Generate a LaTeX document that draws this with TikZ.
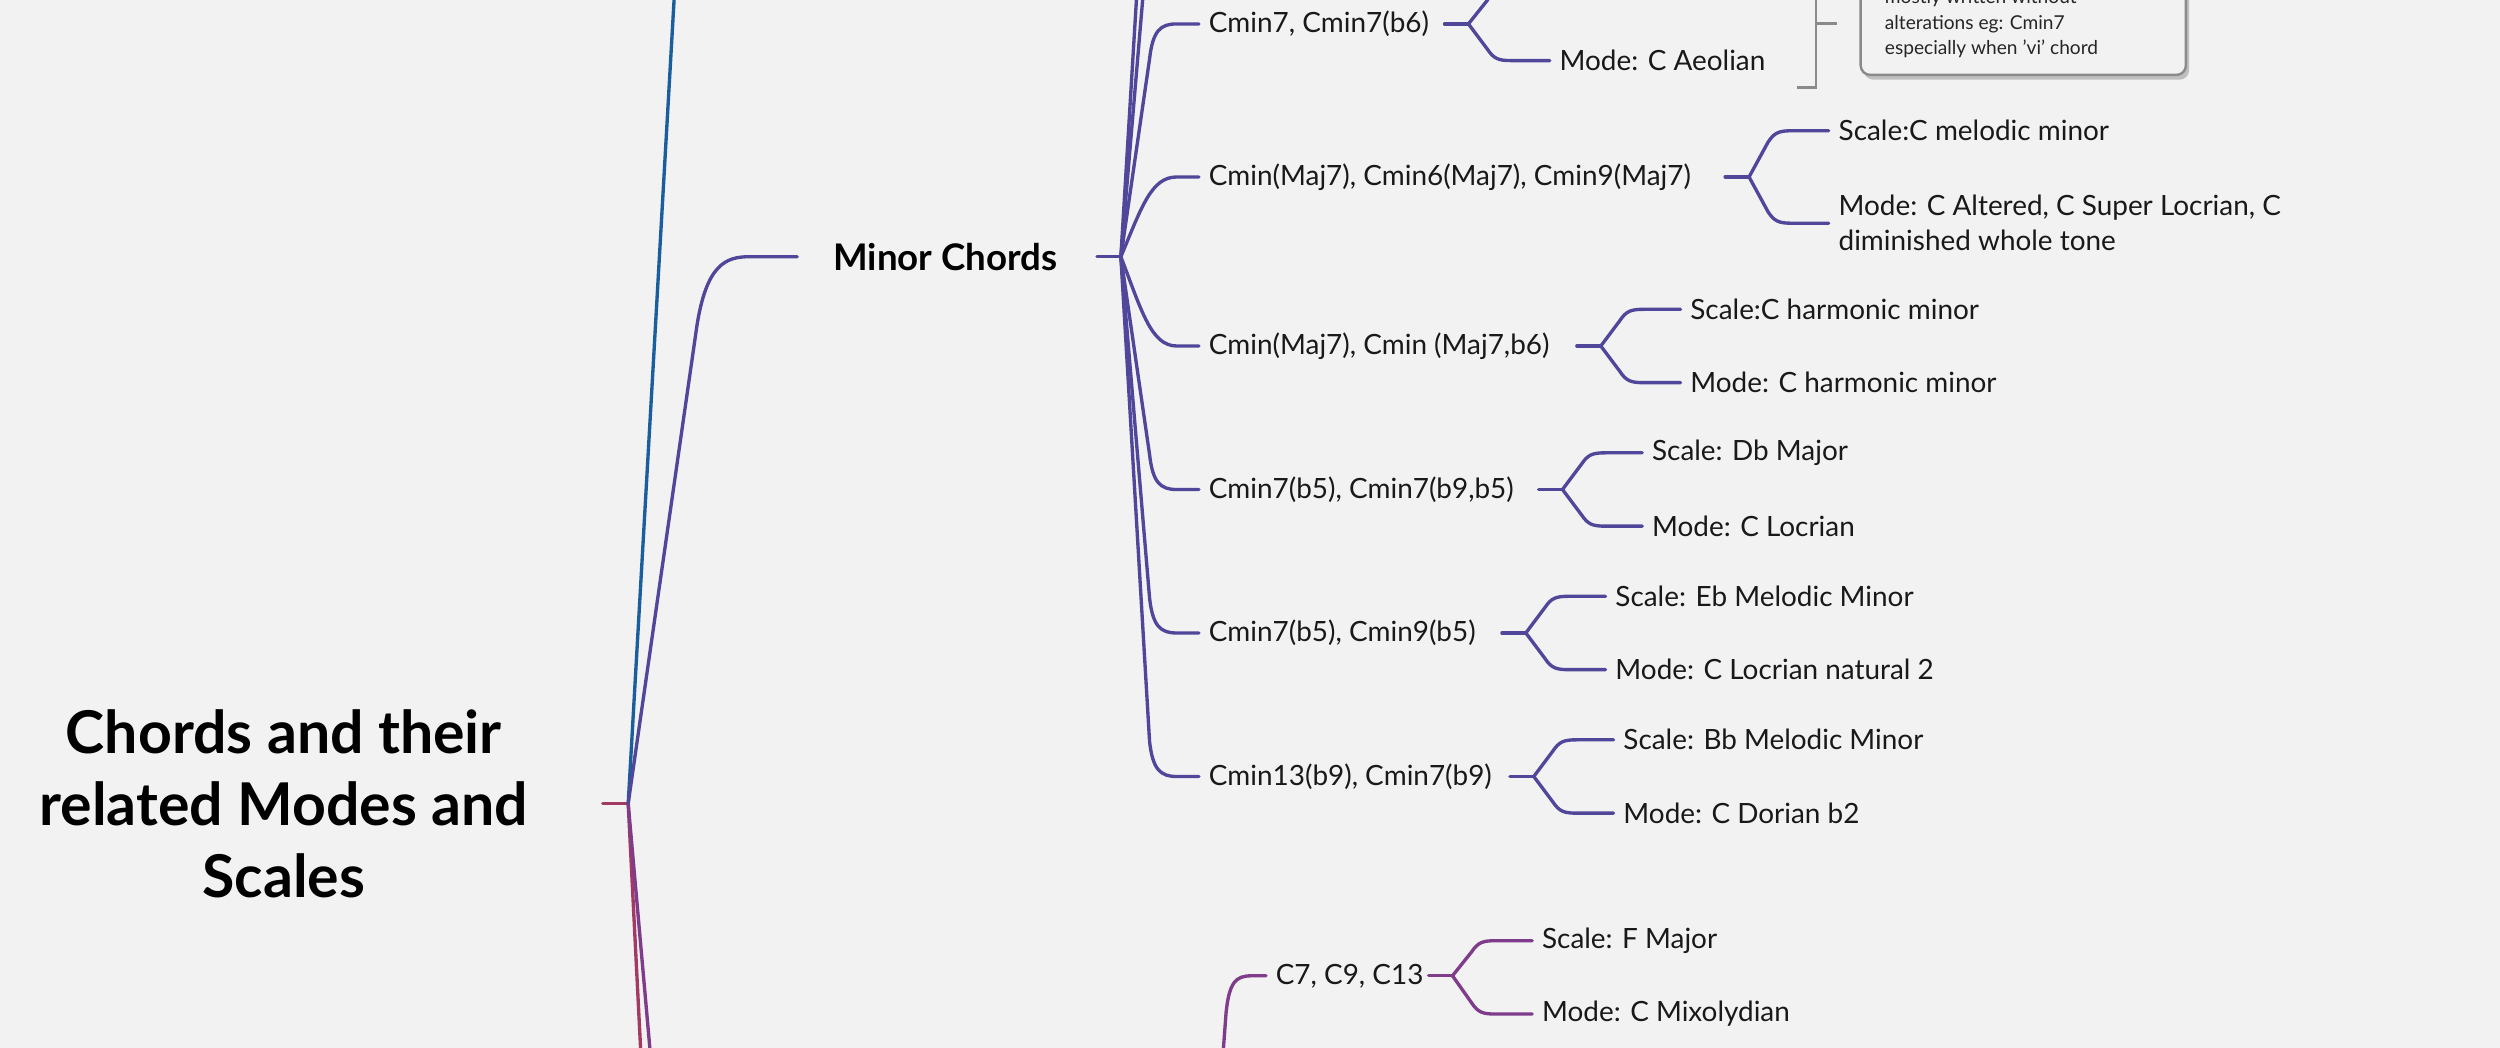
\documentclass[tikz,border=0pt]{standalone}
\usepackage{fontspec}
\setmainfont{Lato}
\usetikzlibrary{calc}
\begin{document}
\definecolor{bg}{HTML}{F2F2F2}
\definecolor{pur}{HTML}{50479A}
\definecolor{blu}{HTML}{1A5E9E}
\definecolor{rd}{HTML}{A33A63}
\definecolor{mag}{HTML}{7E3C8A}
\definecolor{gr}{HTML}{8A8A8A}
\begin{tikzpicture}[x=1pt,y=-1pt,
  ln/.style={line width=2.1pt,line cap=round},
  txt/.style={anchor=west,inner sep=0pt,font=\fontsize{17.5}{22}\selectfont,text=black!90},
  note/.style={anchor=west,inner sep=0pt,font=\fontsize{12}{16}\selectfont,text=black!85,align=left}]
\fill[bg] (0,0) rectangle (1568,657);
\useasboundingbox (0,0) rectangle (1568,657);
\clip (0,0) rectangle (1568,657);
% root
\node[align=center,inner sep=0pt,font=\fontsize{37}{45}\selectfont\bfseries] (root) at (178,504) {Chords and their\\related Modes and\\Scales};
\coordinate (rj) at (394,504);
\coordinate (rs) at (378,504);
\draw[ln,rd] (rs) -- (rj);
\coordinate (bt) at (423,-4);
\draw[ln,blu] (rj) -- (bt);
\coordinate (r1) at (402,662);
\coordinate (r2) at (408,662);
\draw[ln,rd] (rj) -- (r1);
\draw[ln,mag] (rj) -- (r2);
% minor chords
\node[inner sep=0pt,font=\fontsize{23}{26}\selectfont\bfseries] (minor) at (593,161) {Minor Chords};
\coordinate (mw) at (500,161);
\draw[ln,pur] (rj) -- (437,205) .. controls (443,166) and (455,161) .. (470,161) -- (mw);
\coordinate (mj) at (703,161);
\coordinate (ms) at (688,161);
\draw[ln,pur] (ms) -- (mj);
\coordinate (t1) at (713,-4);
\coordinate (t2) at (717,-4);
\draw[ln,pur] (mj) -- (t1);
\draw[ln,pur] (mj) -- (t2);
% chord nodes
\foreach \n/\y/\t in {c1/15/{Cmin7, Cmin7(b6)},c4/307/{Cmin7(b5), Cmin7(b9,b5)},c5/397/{Cmin7(b5), Cmin9(b5)},c6/487/{Cmin13(b9), Cmin7(b9)}}{
  \node[txt] (\n) at (758,\y) {\t};
  \pgfmathsetmacro{\s}{\y<161 ? 1 : -1}
  \draw[ln,pur] (mj) -- (721,\y+\s*22) .. controls (723,\y+\s*4) and (728,\y) .. (738,\y) -- ([xshift=-6pt]\n.west);
}
\node[txt] (c2) at (758,111) {Cmin(Maj7), Cmin6(Maj7), Cmin9(Maj7)};
\draw[ln,pur] (mj) .. controls (716,130) and (722,111) .. (738,111) -- ([xshift=-6pt]c2.west);
\node[txt] (c3) at (758,217) {Cmin(Maj7), Cmin (Maj7,b6)};
\draw[ln,pur] (mj) .. controls (716,195) and (722,217) .. (738,217) -- ([xshift=-6pt]c3.west);
% Cmin7 group
\coordinate (j1) at (921,15);
\draw[ln,pur] (906,15) -- (j1);
\node[txt] (m1) at (978,38) {Mode: C Aeolian};
\draw[ln,pur] (j1) -- (933,31) .. controls (937,37) and (940,38) .. (948,38) -- ([xshift=-6pt]m1.west);
\draw[ln,pur] (j1) -- (933,0) -- (936,-6);
% bracket and note
\coordinate (bk1) at (1139,-4);
\coordinate (bk2) at (1139,55);
\coordinate (bk3) at (1127,55);
\coordinate (bk4) at (1152,15);
\draw[line width=1.8pt,gr] (bk1) -- (bk2) -- (bk3);
\draw[line width=1.8pt,gr] (1139,15) -- (bk4);
\fill[black!25,rounded corners=6pt] (1169,-40) rectangle (1373,50);
\draw[line width=1.5pt,gr,fill=bg,rounded corners=6pt] (1167,-40) rectangle (1371,47);
\node[note] (nt) at (1182,15) {mostly written without\\alterations eg: Cmin7\\especially when 'vi' chord};
% generic groups
\foreach \c/\jx/\jy/\tx/\ya/\yb/\ta/\tb/\col in {
 c2/1097/111/1153/82/140/{Scale:C melodic minor}/{Mode: C Altered, C Super Locrian, C\\diminished whole tone}/pur,
 c3/1004/217/1060/194/240/{Scale:C harmonic minor}/{Mode: C harmonic minor}/pur,
 c4/980/307/1036/284/330/{Scale: Db Major}/{Mode: C Locrian}/pur,
 c5/957/397/1013/374/420/{Scale: Eb Melodic Minor}/{Mode: C Locrian natural 2}/pur,
 c6/962/487/1018/464/510/{Scale: Bb Melodic Minor}/{Mode: C Dorian b2}/pur}{
  \coordinate (J\c) at (\jx,\jy);
  \draw[ln,\col] (\jx-15,\jy) -- (J\c);
  \node[txt] (A\c) at (\tx,\ya) {\ta};
  \node[txt,align=left] (B\c) at (\tx,\yb) {\tb};
  \draw[ln,\col] (J\c) -- (\jx+12,\ya+7) .. controls (\jx+16,\ya+1) and (\jx+19,\ya) .. (\jx+27,\ya) -- (\tx-6,\ya);
  \draw[ln,\col] (J\c) -- (\jx+12,\yb-7) .. controls (\jx+16,\yb-1) and (\jx+19,\yb) .. (\jx+27,\yb) -- (\tx-6,\yb);
}
% dominant group
\node[txt] (d1) at (800,612) {C7, C9, C13};
\coordinate (db) at (767,662);
\draw[ln,mag] (db) -- (769,635) .. controls (771,616) and (775,612) .. (785,612) -- ([xshift=-6pt]d1.west);
\coordinate (dj) at (911,612);
\draw[ln,mag] (896,612) -- (dj);
\node[txt] (ds) at (967,590) {Scale: F Major};
\node[txt] (dm) at (967,636) {Mode: C Mixolydian};
\draw[ln,mag] (dj) -- (923,597) .. controls (927,591) and (930,590) .. (938,590) -- ([xshift=-6pt]ds.west);
\draw[ln,mag] (dj) -- (923,629) .. controls (927,635) and (930,636) .. (938,636) -- ([xshift=-6pt]dm.west);
\end{tikzpicture}
\end{document}
